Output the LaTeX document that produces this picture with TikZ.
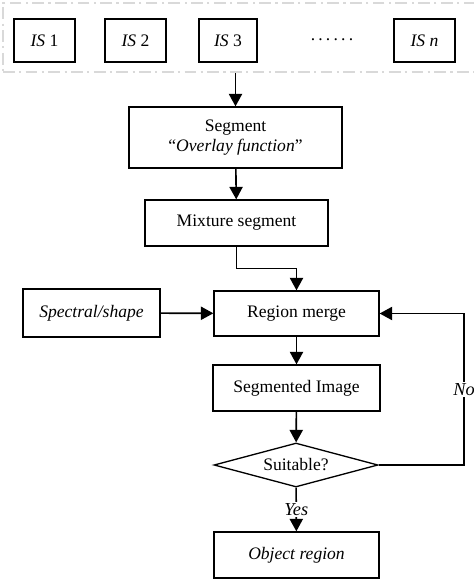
\documentclass[tikz,border=0pt]{standalone}
\usepackage{fontspec}
\setmainfont{Liberation Serif}
\usetikzlibrary{shapes.geometric,arrows.meta,positioning}
\newcommand\px{0.24mm}
\tikzset{
  box/.style={draw, line width=0.9pt, minimum height=46*\px, inner sep=2pt},
  decide/.style={draw, diamond, line width=0.9pt, aspect=3.7, inner sep=0pt},
  arr/.style={line width=1.1pt, -{Triangle[length=8.5pt,width=9pt]}},
  lbl/.style={fill=white, inner sep=1pt, font=\fontsize{12.5}{14}\selectfont\itshape},
}
\begin{document}
\begin{tikzpicture}[x=0.24mm, y=-0.24mm, font=\fontsize{12}{14}\selectfont]
  \useasboundingbox (0,0) rectangle (474,579);

  % Input images
  \node[draw=black!15, line width=1.4pt, dash pattern=on 8pt off 3pt on 1.5pt off 3pt,
        minimum width=474*\px, minimum height=69*\px] (isgroup) at (240,37.5) {};
  \foreach \n/\x/\w/\t in {1/44.5/61/\textit{IS} 1, 2/135.5/61/\textit{IS} 2,
                           3/228/58/\textit{IS} 3, n/424.5/61/\textit{IS n}} {
    \node[box, minimum width=\w*\px, minimum height=43*\px] (is\n) at (\x,40.5) {\t};
  }
  \node (dots) at (332,40) {.\hspace{2.2pt}.\hspace{2.2pt}.\hspace{2.2pt}.\hspace{2.2pt}.\hspace{2.2pt}.};

  % Segmentation steps
  \node[box, align=center, minimum width=213*\px, minimum height=61*\px] (seg) at (235.5,137.5)
    {Segment\\“\textit{Overlay function}”};
  \node[box, minimum width=183*\px] (mix) at (236.5,223) {Mixture segment};
  \node[box, minimum width=165*\px, minimum height=45*\px] (merge) at (296.5,313.5) {Region merge};
  \node[box, minimum width=137*\px, minimum height=48*\px] (spec) at (91.5,313) {\textit{Spectral/shape}};
  \node[box, minimum width=167*\px] (segimg) at (296.5,388) {Segmented Image};
  \node[decide, minimum width=164*\px, minimum height=44*\px] (suit) at (296,465) {Suitable?};
  \node[box, minimum width=165*\px] (obj) at (296.5,555) {\textit{Object region}};
  \coordinate (noturn) at (464,465);

  % Connectors
  \draw[arr] (seg.north |- isgroup.south) -- (seg.north);
  \draw[arr] (seg) -- (mix);
  \draw[arr] (mix.south) -- ++(0,22) -| (merge.north);
  \draw[arr] (spec) -- (merge);
  \draw[arr] (merge) -- (segimg);
  \draw[arr] (segimg) -- (suit);
  \draw[arr] (suit) -- node[lbl] {Yes} (obj);
  \draw[arr] (suit.east) -- (noturn) -- node[lbl] {No} (noturn |- merge.east) -- (merge.east);
\end{tikzpicture}
\end{document}
